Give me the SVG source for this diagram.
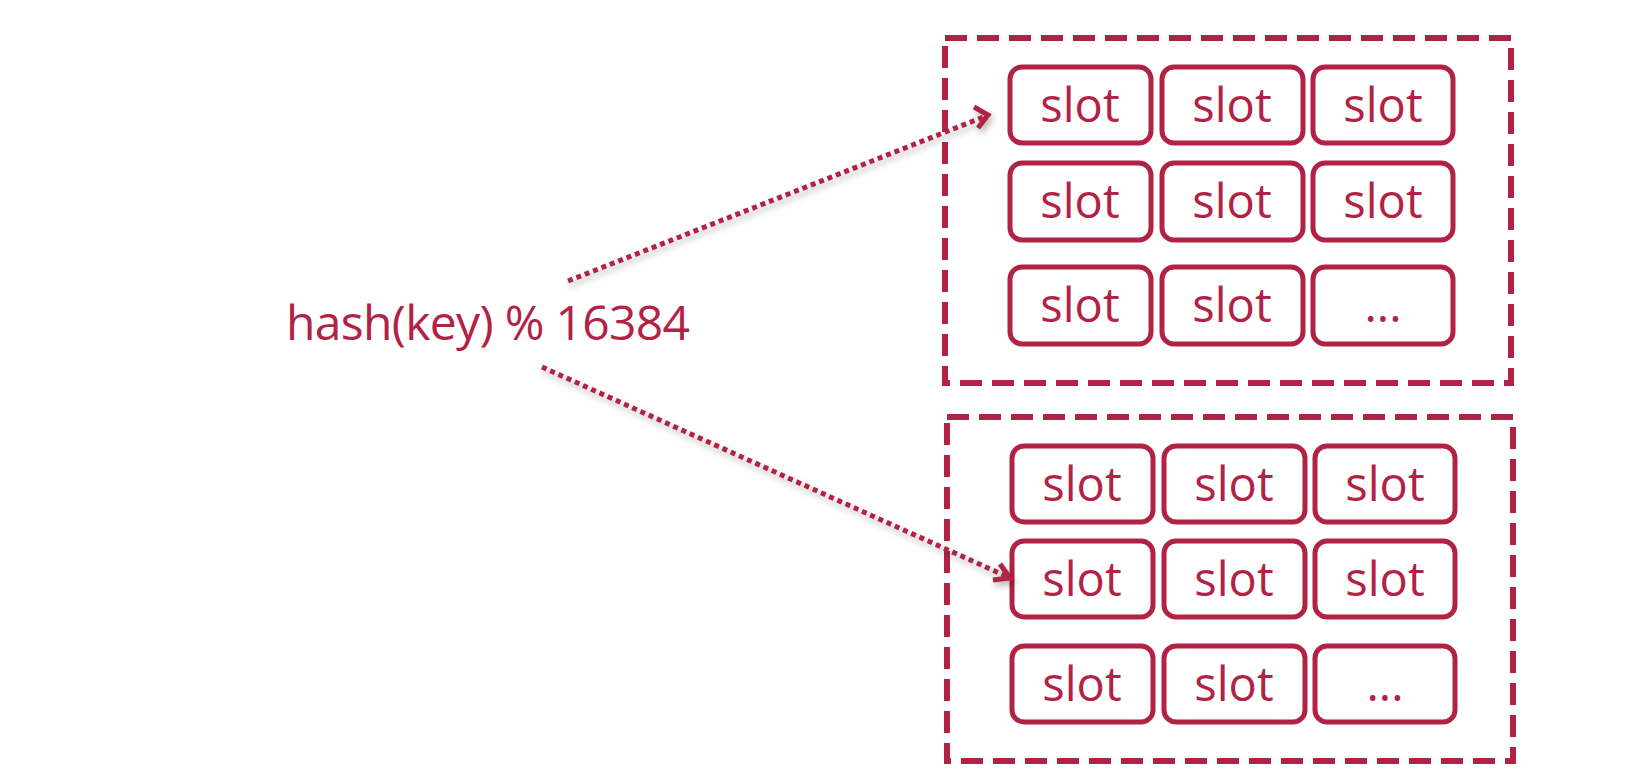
<svg xmlns="http://www.w3.org/2000/svg" width="1634" height="773" viewBox="0 0 1634 773">
<style>
.box{fill:none;stroke:#b22244;stroke-width:6;stroke-dasharray:22 10}
.slot rect{fill:#fff;stroke:#b22244;stroke-width:5}
.slot text,.lbl{fill:#b22244;font-family:"Open Sans","Liberation Sans",sans-serif;text-anchor:middle}
.slot text{font-size:47px;font-weight:500}
.lbl{font-weight:500}
.conn{fill:none;stroke:#b22244;stroke-width:5;stroke-dasharray:5 4}
.head{fill:none;stroke:#b22244;stroke-width:5}
</style>
<defs>
<filter id="sh" x="-10%" y="-50%" width="120%" height="200%"><feDropShadow dx="2" dy="4" stdDeviation="3" flood-color="#000" flood-opacity="0.3"/></filter>
</defs>
<rect width="1634" height="773" fill="#fff"/>
<g id="label"><text class="lbl" x="488" y="340" font-size="48" textLength="404">hash(key) % 16384</text></g>
<g id="cluster1">
<rect class="box" x="945" y="38" width="566" height="345"/>
<g class="slot">
<rect x="1010" y="67" width="141" height="76" rx="12"/><text x="1080" y="122">slot</text>
<rect x="1162" y="67" width="141" height="76" rx="12"/><text x="1232" y="122">slot</text>
<rect x="1313" y="67" width="140" height="76" rx="12"/><text x="1383" y="122">slot</text>
<rect x="1010" y="163" width="141" height="77" rx="12"/><text x="1080" y="218">slot</text>
<rect x="1162" y="163" width="141" height="77" rx="12"/><text x="1232" y="218">slot</text>
<rect x="1313" y="163" width="140" height="77" rx="12"/><text x="1383" y="218">slot</text>
<rect x="1010" y="267" width="141" height="77" rx="12"/><text x="1080" y="322">slot</text>
<rect x="1162" y="267" width="141" height="77" rx="12"/><text x="1232" y="322">slot</text>
<rect x="1313" y="267" width="140" height="77" rx="12"/><text x="1383" y="322">...</text>
</g>
</g>
<g id="cluster2">
<rect class="box" x="947" y="417" width="566" height="344"/>
<g class="slot">
<rect x="1012" y="446" width="141" height="76" rx="12"/><text x="1082" y="501">slot</text>
<rect x="1164" y="446" width="141" height="76" rx="12"/><text x="1234" y="501">slot</text>
<rect x="1315" y="446" width="140" height="76" rx="12"/><text x="1385" y="501">slot</text>
<rect x="1012" y="541" width="141" height="76" rx="12"/><text x="1082" y="596">slot</text>
<rect x="1164" y="541" width="141" height="76" rx="12"/><text x="1234" y="596">slot</text>
<rect x="1315" y="541" width="140" height="76" rx="12"/><text x="1385" y="596">slot</text>
<rect x="1012" y="646" width="141" height="76" rx="12"/><text x="1082" y="701">slot</text>
<rect x="1164" y="646" width="141" height="76" rx="12"/><text x="1234" y="701">slot</text>
<rect x="1315" y="646" width="140" height="76" rx="12"/><text x="1385" y="701">...</text>
</g>
</g>
<g id="connectors" filter="url(#sh)">
<line class="conn" x1="568" y1="281" x2="986" y2="116"/>
<polyline class="head" points="974,107 988,115 978,128"/>
<line class="conn" x1="542" y1="367" x2="1008" y2="577"/>
<polyline class="head" points="1000,564 1010,578 993,580"/>
</g>
</svg>
